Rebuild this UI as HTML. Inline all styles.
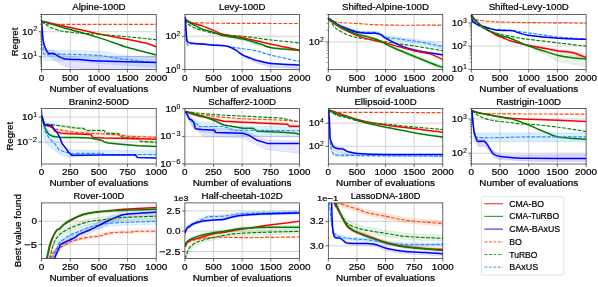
<!DOCTYPE html><html><head><meta charset="utf-8"><style>html,body{margin:0;padding:0;background:#fff;}svg{display:block;will-change:transform;}</style></head><body>
<svg width="598" height="287" viewBox="0 0 598 287" font-family='"Liberation Sans", sans-serif' fill="#000">
<style>text{stroke:#000;stroke-width:0.22px;}text.sup{stroke-width:0.08px;}</style>
<rect x="0" y="0" width="598" height="287" fill="#fff"/>
<defs><clipPath id="c0"><rect x="41.6" y="14.4" width="114.60" height="55.20"/></clipPath></defs>
<path d="M70.25 14.4V69.6M98.90 14.4V69.6M127.55 14.4V69.6M41.6 56.40H156.2M41.6 31.70H156.2" stroke="#c8c8c8" stroke-width="0.8" fill="none"/>
<g clip-path="url(#c0)">
<path d="M42.00 45.00 L44.00 50.00 L48.40 50.40 L70.00 50.40 L100.00 51.30 L114.50 53.70 L129.10 56.20 L156.60 57.10 L156.60 67.30 L129.10 65.40 L100.00 63.40 L70.00 61.00 L48.00 60.40 L44.20 60.40 L42.00 55.00Z" fill="#1e90ff" fill-opacity="0.128" stroke="#1e90ff" stroke-opacity="0.208" stroke-width="0.6"/>
<path d="M42.00 30.00 L43.00 39.00 L45.00 47.00 L48.40 50.00 L53.60 50.40 L58.80 53.60 L66.10 55.70 L80.00 57.20 L100.00 56.80 L156.60 56.60 L156.60 70.00 L100.00 69.50 L80.00 68.20 L70.30 67.70 L66.10 66.60 L60.90 64.50 L55.70 60.90 L50.40 57.20 L46.30 54.60 L43.00 45.00Z" fill="#0000ff" fill-opacity="0.104" stroke="#0000ff" stroke-opacity="0.169" stroke-width="0.6"/>
<path d="M41.60 21.10 C41.98 21.44 42.66 22.69 44.00 23.20 C45.34 23.71 44.00 24.11 50.00 24.30 C58.96 24.49 82.94 24.38 100.00 24.40 C117.06 24.42 147.54 24.40 156.60 24.40" fill="none" stroke="#ff4500" stroke-width="1.15" stroke-linejoin="round" stroke-dasharray="3.8 1.4"/>
<path d="M41.60 21.10 C46.14 22.12 60.98 25.47 70.00 27.50 C79.02 29.53 88.83 31.91 98.00 33.80 C107.17 35.69 119.54 37.78 127.30 39.30 C135.06 40.82 141.81 42.08 146.50 43.30 C151.19 44.52 154.98 46.32 156.60 46.90" fill="none" stroke="#ff0000" stroke-width="1.5" stroke-linejoin="round"/>
<path d="M41.60 21.10 C46.14 22.44 60.98 26.89 70.00 29.50 C79.02 32.11 88.83 34.55 98.00 37.40 C107.17 40.25 119.54 44.90 127.30 47.30 C135.06 49.70 141.81 51.17 146.50 52.40 C151.19 53.63 154.98 54.58 156.60 55.00" fill="none" stroke="#008000" stroke-width="1.5" stroke-linejoin="round"/>
<path d="M41.60 21.10 C42.30 21.64 44.64 23.54 46.00 24.50 C47.36 25.46 47.83 26.09 50.10 27.10 C52.37 28.11 56.97 29.98 60.20 30.80 C63.43 31.62 67.07 31.82 70.30 32.20 C73.53 32.58 75.97 32.88 80.40 33.20 C84.83 33.52 90.50 33.62 98.00 34.20 C105.50 34.78 117.92 35.92 127.30 36.80 C136.68 37.68 151.91 39.24 156.60 39.70" fill="none" stroke="#008000" stroke-width="1.15" stroke-linejoin="round" stroke-dasharray="3.8 1.4"/>
<path d="M41.60 21.10 C41.74 23.32 42.28 31.18 42.50 35.00 C42.72 38.82 42.81 41.94 43.00 45.00 C43.19 48.06 43.00 52.64 43.70 54.10 C46.42 55.56 54.19 54.02 60.00 54.10 C65.81 54.18 73.60 54.38 80.00 54.60 C86.40 54.82 95.25 55.10 100.00 55.50 C104.75 55.90 106.60 56.60 109.70 57.10 C112.80 57.60 116.30 58.22 119.40 58.60 C122.50 58.98 126.00 59.12 129.10 59.50 C132.20 59.88 134.40 60.52 138.80 61.00 C143.20 61.48 153.75 62.26 156.60 62.50" fill="none" stroke="#1e90ff" stroke-width="1.15" stroke-linejoin="round" stroke-dasharray="3.8 1.4"/>
<path d="M41.60 21.10 C41.71 22.52 42.06 26.98 42.30 30.00 C42.54 33.02 42.72 37.39 43.10 40.00 C43.48 42.61 44.19 44.64 44.70 46.30 C45.21 47.96 45.71 49.31 46.30 50.40 C46.89 51.49 47.74 52.59 48.40 53.10 C49.06 53.61 49.65 53.55 50.40 53.60 C51.15 53.65 52.25 53.24 53.10 53.40 C53.95 53.56 54.63 53.99 55.70 54.60 C56.77 55.21 58.47 56.53 59.80 57.20 C61.13 57.87 62.32 58.46 64.00 58.80 C65.68 59.14 67.74 59.17 70.30 59.30 C72.86 59.43 75.25 59.31 80.00 59.60 C84.75 59.89 87.74 60.64 100.00 61.10 C112.26 61.56 147.54 62.28 156.60 62.50" fill="none" stroke="#0000ff" stroke-width="1.5" stroke-linejoin="round"/>
</g>
<rect x="41.6" y="14.4" width="114.60" height="55.20" fill="none" stroke="#262626" stroke-width="0.7"/>
<path d="M41.60 69.6v2.9M70.25 69.6v2.9M98.90 69.6v2.9M127.55 69.6v2.9M156.20 69.6v2.9M41.6 56.40h-2.9M41.6 31.70h-2.9" stroke="#262626" stroke-width="0.7" fill="none"/>
<path d="M41.6 69.32h-1.7M41.6 66.23h-1.7M41.6 63.84h-1.7M41.6 61.88h-1.7M41.6 60.23h-1.7M41.6 58.79h-1.7M41.6 57.53h-1.7M41.6 48.96h-1.7M41.6 44.62h-1.7M41.6 41.53h-1.7M41.6 39.14h-1.7M41.6 37.18h-1.7M41.6 35.53h-1.7M41.6 34.09h-1.7M41.6 32.83h-1.7M41.6 24.26h-1.7M41.6 19.92h-1.7M41.6 16.83h-1.7M41.6 14.44h-1.7" stroke="#262626" stroke-width="0.5" fill="none"/>
<text x="41.60" y="81.00" font-size="9.2" text-anchor="middle" textLength="5.52" lengthAdjust="spacingAndGlyphs">0</text>
<text x="70.25" y="81.00" font-size="9.2" text-anchor="middle" textLength="16.55" lengthAdjust="spacingAndGlyphs">500</text>
<text x="98.90" y="81.00" font-size="9.2" text-anchor="middle" textLength="22.06" lengthAdjust="spacingAndGlyphs">1000</text>
<text x="127.55" y="81.00" font-size="9.2" text-anchor="middle" textLength="22.06" lengthAdjust="spacingAndGlyphs">1500</text>
<text x="156.20" y="81.00" font-size="9.2" text-anchor="middle" textLength="22.06" lengthAdjust="spacingAndGlyphs">2000</text>
<text x="98.90" y="91.50" font-size="9.2" text-anchor="middle" textLength="98.82" lengthAdjust="spacingAndGlyphs">Number of evaluations</text>
<text x="98.90" y="10.40" font-size="9.2" text-anchor="middle" textLength="53.43" lengthAdjust="spacingAndGlyphs">Alpine-100D</text>
<text x="33.14" y="59.30" font-size="9.2" text-anchor="end" textLength="11.03" lengthAdjust="spacingAndGlyphs">10</text>
<text class="sup" x="33.34" y="56.10" font-size="6.3" text-anchor="start" textLength="3.86" lengthAdjust="spacingAndGlyphs">1</text>
<text x="33.14" y="34.60" font-size="9.2" text-anchor="end" textLength="11.03" lengthAdjust="spacingAndGlyphs">10</text>
<text class="sup" x="33.34" y="31.40" font-size="6.3" text-anchor="start" textLength="3.86" lengthAdjust="spacingAndGlyphs">2</text>
<text x="0" y="0" font-size="9.2" text-anchor="middle" textLength="28.58" lengthAdjust="spacingAndGlyphs" transform="translate(18.3 42.00) rotate(-90)">Regret</text>
<defs><clipPath id="c1"><rect x="184.9" y="14.4" width="114.50" height="55.20"/></clipPath></defs>
<path d="M213.53 14.4V69.6M242.15 14.4V69.6M270.77 14.4V69.6M184.9 36.30H299.4" stroke="#c8c8c8" stroke-width="0.8" fill="none"/>
<g clip-path="url(#c1)">
<path d="M185.30 16.20 L186.20 31.60 L186.90 39.30 L188.20 41.60 L192.00 42.50 L202.40 43.20 L215.30 44.50 L223.40 44.90 L229.00 45.90 L235.90 49.40 L242.90 54.30 L249.90 57.10 L256.80 59.60 L270.80 62.70 L299.60 64.30 L299.60 68.60 L270.80 67.00 L256.80 62.90 L249.90 59.90 L242.90 56.60 L235.90 51.20 L229.00 47.20 L223.40 45.70 L215.30 45.30 L202.40 44.00 L192.00 43.30 L188.20 42.40 L186.90 40.10 L186.20 32.40 L185.30 17.00Z" fill="#0000ff" fill-opacity="0.120" stroke="#0000ff" stroke-opacity="0.195" stroke-width="0.6"/>
<path d="M185.30 19.00 L190.70 22.80 L195.90 25.40 L202.40 28.60 L208.80 30.60 L215.30 32.50 L223.00 35.10 L243.00 38.60 L261.20 43.80 L271.30 47.20 L299.60 49.90 L261.20 46.30 L243.00 40.60 L223.00 36.60 L215.30 33.50 L208.80 31.10 L202.40 29.10 L195.90 25.90 L190.70 23.30 L185.30 19.50Z" fill="#008000" fill-opacity="0.120" stroke="#008000" stroke-opacity="0.195" stroke-width="0.6"/>
<path d="M185.30 19.50 C186.16 19.90 189.00 21.49 190.70 22.00 C192.40 22.51 190.73 22.49 195.90 22.70 C201.07 22.91 215.46 23.19 223.00 23.30 C230.54 23.41 230.74 23.37 243.00 23.40 C255.26 23.43 290.54 23.48 299.60 23.50" fill="none" stroke="#ff4500" stroke-width="1.15" stroke-linejoin="round" stroke-dasharray="3.8 1.4"/>
<path d="M185.30 19.50 C186.16 20.01 189.00 21.98 190.70 22.70 C192.40 23.42 194.03 23.49 195.90 24.00 C197.77 24.51 200.34 25.18 202.40 25.90 C204.46 26.62 206.74 27.67 208.80 28.50 C210.86 29.33 213.03 30.17 215.30 31.10 C217.57 32.03 218.57 33.24 223.00 34.30 C227.43 35.36 235.27 36.10 243.00 37.70 C250.73 39.30 262.24 42.33 271.30 44.30 C280.36 46.27 295.07 49.09 299.60 50.00" fill="none" stroke="#ff0000" stroke-width="1.5" stroke-linejoin="round"/>
<path d="M185.30 19.50 C185.76 20.22 187.13 22.88 188.20 24.00 C189.27 25.12 190.77 25.78 192.00 26.50 C193.23 27.22 194.24 27.88 195.90 28.50 C197.56 29.12 200.34 29.82 202.40 30.40 C204.46 30.98 206.74 31.59 208.80 32.10 C210.86 32.61 213.03 33.14 215.30 33.60 C217.57 34.06 218.57 34.57 223.00 35.00 C227.43 35.43 235.27 35.50 243.00 36.30 C250.73 37.10 262.24 38.94 271.30 40.00 C280.36 41.06 295.07 42.44 299.60 42.90" fill="none" stroke="#008000" stroke-width="1.15" stroke-linejoin="round" stroke-dasharray="3.8 1.4"/>
<path d="M185.30 19.50 C186.16 20.11 189.00 22.28 190.70 23.30 C192.40 24.32 194.03 24.97 195.90 25.90 C197.77 26.83 200.34 28.27 202.40 29.10 C204.46 29.93 206.74 30.48 208.80 31.10 C210.86 31.72 213.03 32.28 215.30 33.00 C217.57 33.72 218.57 34.62 223.00 35.60 C227.43 36.58 236.89 37.71 243.00 39.10 C249.11 40.49 256.67 42.92 261.20 44.30 C265.73 45.68 265.16 46.72 271.30 47.70 C277.44 48.68 295.07 49.97 299.60 50.40" fill="none" stroke="#008000" stroke-width="1.5" stroke-linejoin="round"/>
<path d="M185.30 17.00 C185.56 21.21 185.65 39.04 186.90 43.30 C188.15 47.56 188.88 43.33 193.10 43.60 C197.32 43.87 208.45 44.70 213.30 45.00 C218.15 45.30 220.89 45.26 223.40 45.50 C225.91 45.74 225.88 45.97 229.00 46.50 C232.12 47.03 238.45 48.10 242.90 48.80 C247.35 49.50 252.34 49.89 256.80 50.90 C261.26 51.91 263.95 53.40 270.80 55.10 C277.65 56.80 294.99 60.48 299.60 61.50" fill="none" stroke="#1e90ff" stroke-width="1.15" stroke-linejoin="round" stroke-dasharray="3.8 1.4"/>
<path d="M185.30 17.00 C185.44 19.46 185.94 28.70 186.20 32.40 C186.46 36.10 186.58 38.50 186.90 40.10 C187.22 41.70 187.38 41.89 188.20 42.40 C189.02 42.91 189.73 43.04 192.00 43.30 C194.27 43.56 198.67 43.68 202.40 44.00 C206.13 44.32 211.94 45.03 215.30 45.30 C218.66 45.57 221.21 45.48 223.40 45.70 C225.59 45.92 227.00 45.98 229.00 46.70 C231.00 47.42 233.68 48.86 235.90 50.20 C238.12 51.54 240.66 53.87 242.90 55.10 C245.14 56.33 247.68 57.05 249.90 57.90 C252.12 58.75 253.46 59.50 256.80 60.40 C260.14 61.30 263.95 62.75 270.80 63.50 C277.65 64.25 294.99 64.84 299.60 65.10" fill="none" stroke="#0000ff" stroke-width="1.5" stroke-linejoin="round"/>
</g>
<rect x="184.9" y="14.4" width="114.50" height="55.20" fill="none" stroke="#262626" stroke-width="0.7"/>
<path d="M184.90 69.6v2.9M213.53 69.6v2.9M242.15 69.6v2.9M270.77 69.6v2.9M299.40 69.6v2.9M184.9 69.60h-2.9M184.9 36.30h-2.9" stroke="#262626" stroke-width="0.7" fill="none"/>
<text x="184.90" y="81.00" font-size="9.2" text-anchor="middle" textLength="5.52" lengthAdjust="spacingAndGlyphs">0</text>
<text x="213.53" y="81.00" font-size="9.2" text-anchor="middle" textLength="16.55" lengthAdjust="spacingAndGlyphs">500</text>
<text x="242.15" y="81.00" font-size="9.2" text-anchor="middle" textLength="22.06" lengthAdjust="spacingAndGlyphs">1000</text>
<text x="270.77" y="81.00" font-size="9.2" text-anchor="middle" textLength="22.06" lengthAdjust="spacingAndGlyphs">1500</text>
<text x="299.40" y="81.00" font-size="9.2" text-anchor="middle" textLength="22.06" lengthAdjust="spacingAndGlyphs">2000</text>
<text x="242.15" y="91.50" font-size="9.2" text-anchor="middle" textLength="98.82" lengthAdjust="spacingAndGlyphs">Number of evaluations</text>
<text x="242.15" y="10.40" font-size="9.2" text-anchor="middle" textLength="46.47" lengthAdjust="spacingAndGlyphs">Levy-100D</text>
<text x="176.44" y="72.50" font-size="9.2" text-anchor="end" textLength="11.03" lengthAdjust="spacingAndGlyphs">10</text>
<text class="sup" x="176.64" y="69.30" font-size="6.3" text-anchor="start" textLength="3.86" lengthAdjust="spacingAndGlyphs">0</text>
<text x="176.44" y="39.20" font-size="9.2" text-anchor="end" textLength="11.03" lengthAdjust="spacingAndGlyphs">10</text>
<text class="sup" x="176.64" y="36.00" font-size="6.3" text-anchor="start" textLength="3.86" lengthAdjust="spacingAndGlyphs">2</text>
<defs><clipPath id="c2"><rect x="328.3" y="14.4" width="114.50" height="55.20"/></clipPath></defs>
<path d="M356.93 14.4V69.6M385.55 14.4V69.6M414.18 14.4V69.6M328.3 41.90H442.8" stroke="#c8c8c8" stroke-width="0.8" fill="none"/>
<g clip-path="url(#c2)">
<path d="M328.60 19.10 L337.10 24.40 L347.20 29.70 L357.30 33.70 L367.40 36.00 L377.50 38.90 L385.00 42.50 L393.00 46.30 L413.90 54.80 L430.00 60.90 L442.80 65.50 L442.80 69.50 L430.00 64.50 L413.90 57.80 L393.00 48.70 L385.00 44.50 L377.50 40.50 L367.40 37.60 L357.30 34.70 L347.20 30.70 L337.10 25.40 L328.60 19.10Z" fill="#008000" fill-opacity="0.120" stroke="#008000" stroke-opacity="0.195" stroke-width="0.6"/>
<path d="M328.60 17.80 L337.10 23.30 L347.20 27.70 L357.30 30.80 L367.40 31.40 L377.00 31.60 L385.00 35.80 L413.90 39.00 L442.80 44.20 L442.80 49.20 L413.90 43.00 L385.00 38.50 L377.00 33.60 L367.40 33.40 L357.30 32.40 L347.20 28.70 L337.10 24.30 L328.60 17.80Z" fill="#1e90ff" fill-opacity="0.160" stroke="#1e90ff" stroke-opacity="0.260" stroke-width="0.6"/>
<path d="M328.60 17.50 L337.10 23.50 L347.20 28.00 L357.30 31.40 L367.40 32.40 L375.50 32.40 L381.50 34.00 L385.00 37.00 L401.00 45.10 L413.90 49.10 L430.00 52.30 L442.80 53.90 L442.80 55.50 L430.00 53.90 L413.90 50.70 L401.00 46.70 L385.00 38.60 L381.50 35.60 L375.50 34.00 L367.40 34.00 L357.30 33.00 L347.20 29.60 L337.10 25.10 L328.60 19.10Z" fill="#0000ff" fill-opacity="0.120" stroke="#0000ff" stroke-opacity="0.195" stroke-width="0.6"/>
<path d="M328.60 19.10 C329.96 19.58 332.51 21.40 337.10 22.10 C341.69 22.80 349.32 23.02 357.30 23.50 C365.28 23.98 373.19 24.84 387.00 25.10 C400.81 25.36 434.54 25.10 443.60 25.10" fill="none" stroke="#ff4500" stroke-width="1.15" stroke-linejoin="round" stroke-dasharray="3.8 1.4"/>
<path d="M328.60 19.10 C329.32 20.06 331.74 23.48 333.10 25.10 C334.46 26.72 334.84 27.65 337.10 29.20 C339.36 30.75 343.97 33.46 347.20 34.80 C350.43 36.14 354.07 36.88 357.30 37.60 C360.53 38.32 364.17 38.87 367.40 39.30 C370.63 39.73 374.68 39.88 377.50 40.30 C380.32 40.72 379.18 41.00 385.00 41.90 C390.82 42.80 404.65 44.49 413.90 45.90 C423.15 47.31 438.18 49.93 442.80 50.70" fill="none" stroke="#008000" stroke-width="1.15" stroke-linejoin="round" stroke-dasharray="3.8 1.4"/>
<path d="M328.60 17.80 C329.96 18.76 334.12 22.14 337.10 23.80 C340.08 25.46 343.97 26.95 347.20 28.20 C350.43 29.45 354.07 30.93 357.30 31.60 C360.53 32.27 364.25 32.24 367.40 32.40 C370.55 32.56 374.18 31.86 377.00 32.60 C379.82 33.34 379.10 35.66 385.00 37.00 C390.90 38.34 404.65 39.45 413.90 41.00 C423.15 42.55 438.18 45.79 442.80 46.70" fill="none" stroke="#1e90ff" stroke-width="1.15" stroke-linejoin="round" stroke-dasharray="3.8 1.4"/>
<path d="M328.60 18.30 C329.96 19.26 334.12 22.62 337.10 24.30 C340.08 25.98 343.97 27.54 347.20 28.80 C350.43 30.06 354.07 31.50 357.30 32.20 C360.53 32.90 364.49 33.04 367.40 33.20 C370.31 33.36 373.24 32.94 375.50 33.20 C377.76 33.46 379.98 34.06 381.50 34.80 C383.02 35.54 381.88 36.02 385.00 37.80 C388.12 39.58 396.38 43.96 401.00 45.90 C405.62 47.84 409.26 48.75 413.90 49.90 C418.54 51.05 425.38 52.33 430.00 53.10 C434.62 53.87 440.75 54.44 442.80 54.70" fill="none" stroke="#0000ff" stroke-width="1.5" stroke-linejoin="round"/>
<path d="M328.60 19.10 C329.96 20.12 334.12 23.56 337.10 25.50 C340.08 27.44 343.97 29.58 347.20 31.20 C350.43 32.82 354.07 34.37 357.30 35.60 C360.53 36.83 364.17 37.99 367.40 38.90 C370.63 39.81 374.68 40.69 377.50 41.30 C380.32 41.91 382.52 42.09 385.00 42.70 C387.48 43.31 388.38 43.82 393.00 45.10 C397.62 46.38 407.98 49.29 413.90 50.70 C419.82 52.11 425.38 52.49 430.00 53.90 C434.62 55.31 440.75 58.60 442.80 59.50" fill="none" stroke="#ff0000" stroke-width="1.5" stroke-linejoin="round"/>
<path d="M328.60 19.10 C329.96 20.03 334.12 23.12 337.10 24.90 C340.08 26.68 343.97 28.71 347.20 30.20 C350.43 31.69 354.07 33.14 357.30 34.20 C360.53 35.26 364.17 35.92 367.40 36.80 C370.63 37.68 374.68 38.63 377.50 39.70 C380.32 40.77 382.52 42.25 385.00 43.50 C387.48 44.75 388.38 45.45 393.00 47.50 C397.62 49.55 407.98 53.87 413.90 56.30 C419.82 58.73 425.38 60.91 430.00 62.70 C434.62 64.49 440.75 66.73 442.80 67.50" fill="none" stroke="#008000" stroke-width="1.5" stroke-linejoin="round"/>
</g>
<rect x="328.3" y="14.4" width="114.50" height="55.20" fill="none" stroke="#262626" stroke-width="0.7"/>
<path d="M328.30 69.6v2.9M356.93 69.6v2.9M385.55 69.6v2.9M414.18 69.6v2.9M442.80 69.6v2.9M328.3 41.90h-2.9" stroke="#262626" stroke-width="0.7" fill="none"/>
<path d="M328.3 69.16h-1.7M328.3 62.29h-1.7M328.3 57.42h-1.7M328.3 53.64h-1.7M328.3 50.55h-1.7M328.3 47.94h-1.7M328.3 45.68h-1.7M328.3 43.68h-1.7M328.3 30.16h-1.7M328.3 23.29h-1.7M328.3 18.42h-1.7M328.3 14.64h-1.7" stroke="#262626" stroke-width="0.5" fill="none"/>
<text x="328.30" y="81.00" font-size="9.2" text-anchor="middle" textLength="5.52" lengthAdjust="spacingAndGlyphs">0</text>
<text x="356.93" y="81.00" font-size="9.2" text-anchor="middle" textLength="16.55" lengthAdjust="spacingAndGlyphs">500</text>
<text x="385.55" y="81.00" font-size="9.2" text-anchor="middle" textLength="22.06" lengthAdjust="spacingAndGlyphs">1000</text>
<text x="414.18" y="81.00" font-size="9.2" text-anchor="middle" textLength="22.06" lengthAdjust="spacingAndGlyphs">1500</text>
<text x="442.80" y="81.00" font-size="9.2" text-anchor="middle" textLength="22.06" lengthAdjust="spacingAndGlyphs">2000</text>
<text x="385.55" y="91.50" font-size="9.2" text-anchor="middle" textLength="98.82" lengthAdjust="spacingAndGlyphs">Number of evaluations</text>
<text x="385.55" y="10.40" font-size="9.2" text-anchor="middle" textLength="86.92" lengthAdjust="spacingAndGlyphs">Shifted-Alpine-100D</text>
<text x="319.84" y="44.80" font-size="9.2" text-anchor="end" textLength="11.03" lengthAdjust="spacingAndGlyphs">10</text>
<text class="sup" x="320.04" y="41.60" font-size="6.3" text-anchor="start" textLength="3.86" lengthAdjust="spacingAndGlyphs">2</text>
<defs><clipPath id="c3"><rect x="471.3" y="14.4" width="114.80" height="55.20"/></clipPath></defs>
<path d="M500.00 14.4V69.6M528.70 14.4V69.6M557.40 14.4V69.6M471.3 46.12H586.1M471.3 22.90H586.1" stroke="#c8c8c8" stroke-width="0.8" fill="none"/>
<g clip-path="url(#c3)">
<path d="M520.00 42.00 L528.00 45.00 L548.20 52.00 L558.30 53.50 L572.40 55.50 L586.60 57.00 L586.60 66.50 L572.40 64.00 L558.30 61.50 L548.20 56.00 L528.00 47.00 L520.00 44.00Z" fill="#008000" fill-opacity="0.096" stroke="#008000" stroke-opacity="0.156" stroke-width="0.6"/>
<path d="M471.60 15.00 L473.90 18.80 L482.90 27.20 L489.40 31.10 L495.80 35.00 L502.30 37.50 L510.00 40.70 L520.50 43.60 L528.00 44.80 L548.20 48.00 L558.30 50.00 L572.40 50.90 L586.60 56.30 L586.60 59.30 L572.40 53.90 L558.30 52.00 L548.20 50.00 L528.00 45.80 L520.50 43.60 L510.00 40.70 L502.30 37.50 L495.80 35.00 L489.40 31.10 L482.90 27.20 L473.90 18.80 L471.60 15.00Z" fill="#ff0000" fill-opacity="0.120" stroke="#ff0000" stroke-opacity="0.195" stroke-width="0.6"/>
<path d="M471.60 15.50 C472.38 16.14 474.69 18.67 476.50 19.50 C478.31 20.33 479.81 20.33 482.90 20.70 C485.99 21.07 491.46 21.54 495.80 21.80 C500.14 22.06 504.53 22.17 510.00 22.30 C515.47 22.43 517.74 22.47 530.00 22.60 C542.26 22.73 577.54 23.02 586.60 23.10" fill="none" stroke="#ff4500" stroke-width="1.15" stroke-linejoin="round" stroke-dasharray="3.8 1.4"/>
<path d="M471.60 15.50 C472.38 16.86 474.69 22.03 476.50 24.00 C478.31 25.97 480.84 26.66 482.90 27.80 C484.96 28.94 487.34 30.27 489.40 31.10 C491.46 31.93 493.74 32.42 495.80 33.00 C497.86 33.58 500.03 34.19 502.30 34.70 C504.57 35.21 507.09 35.62 510.00 36.20 C512.91 36.78 517.62 37.80 520.50 38.30 C523.38 38.80 521.95 38.56 528.00 39.30 C534.05 40.04 548.92 41.78 558.30 42.90 C567.68 44.02 582.07 45.76 586.60 46.30" fill="none" stroke="#008000" stroke-width="1.15" stroke-linejoin="round" stroke-dasharray="3.8 1.4"/>
<path d="M471.60 15.50 C471.82 16.14 472.42 18.49 473.00 19.50 C473.58 20.51 473.62 20.78 475.20 21.80 C476.78 22.82 480.63 24.91 482.90 25.90 C485.17 26.89 487.34 27.42 489.40 28.00 C491.46 28.58 492.12 29.13 495.80 29.50 C499.48 29.87 508.77 29.96 512.40 30.30 C516.03 30.64 516.00 31.20 518.50 31.60 C521.00 32.00 521.63 31.94 528.00 32.80 C534.37 33.66 548.92 36.01 558.30 37.00 C567.68 37.99 582.07 38.68 586.60 39.00" fill="none" stroke="#1e90ff" stroke-width="1.15" stroke-linejoin="round" stroke-dasharray="3.8 1.4"/>
<path d="M471.60 15.60 C471.76 16.53 472.02 20.17 472.60 21.40 C473.18 22.63 474.18 22.68 475.20 23.30 C476.22 23.92 477.77 24.79 479.00 25.30 C480.23 25.81 481.24 25.99 482.90 26.50 C484.56 27.01 487.34 27.94 489.40 28.50 C491.46 29.06 493.74 29.70 495.80 30.00 C497.86 30.30 499.64 30.27 502.30 30.40 C504.96 30.53 509.81 30.42 512.40 30.80 C514.99 31.18 516.00 32.10 518.50 32.80 C521.00 33.50 521.63 34.32 528.00 35.20 C534.37 36.08 548.92 37.64 558.30 38.30 C567.68 38.96 582.07 39.14 586.60 39.30" fill="none" stroke="#0000ff" stroke-width="1.5" stroke-linejoin="round"/>
<path d="M471.60 15.00 C471.97 15.61 472.09 16.85 473.90 18.80 C475.71 20.75 480.42 25.23 482.90 27.20 C485.38 29.17 487.34 29.85 489.40 31.10 C491.46 32.35 493.74 33.98 495.80 35.00 C497.86 36.02 500.03 36.59 502.30 37.50 C504.57 38.41 507.09 39.72 510.00 40.70 C512.91 41.68 517.62 42.86 520.50 43.60 C523.38 44.34 523.57 44.44 528.00 45.30 C532.43 46.16 543.35 48.09 548.20 49.00 C553.05 49.91 554.43 50.46 558.30 51.00 C562.17 51.54 567.87 51.31 572.40 52.40 C576.93 53.49 584.33 56.94 586.60 57.80" fill="none" stroke="#ff0000" stroke-width="1.5" stroke-linejoin="round"/>
<path d="M471.60 15.00 C471.97 15.61 472.09 16.88 473.90 18.80 C475.71 20.72 480.42 25.08 482.90 27.00 C485.38 28.92 487.34 29.74 489.40 30.80 C491.46 31.86 493.74 32.74 495.80 33.60 C497.86 34.46 500.03 35.46 502.30 36.20 C504.57 36.94 507.09 37.18 510.00 38.20 C512.91 39.22 517.62 41.40 520.50 42.60 C523.38 43.80 523.57 44.13 528.00 45.70 C532.43 47.27 543.35 50.85 548.20 52.40 C553.05 53.95 554.43 54.54 558.30 55.40 C562.17 56.26 567.87 57.21 572.40 57.80 C576.93 58.39 584.33 58.89 586.60 59.10" fill="none" stroke="#008000" stroke-width="1.5" stroke-linejoin="round"/>
</g>
<rect x="471.3" y="14.4" width="114.80" height="55.20" fill="none" stroke="#262626" stroke-width="0.7"/>
<path d="M471.30 69.6v2.9M500.00 69.6v2.9M528.70 69.6v2.9M557.40 69.6v2.9M586.10 69.6v2.9M471.3 69.35h-2.9M471.3 46.12h-2.9M471.3 22.90h-2.9" stroke="#262626" stroke-width="0.7" fill="none"/>
<path d="M471.3 62.36h-1.7M471.3 58.27h-1.7M471.3 55.37h-1.7M471.3 53.12h-1.7M471.3 51.28h-1.7M471.3 49.72h-1.7M471.3 48.38h-1.7M471.3 47.19h-1.7M471.3 39.13h-1.7M471.3 35.04h-1.7M471.3 32.14h-1.7M471.3 29.89h-1.7M471.3 28.05h-1.7M471.3 26.50h-1.7M471.3 25.15h-1.7M471.3 23.96h-1.7M471.3 15.91h-1.7" stroke="#262626" stroke-width="0.5" fill="none"/>
<text x="471.30" y="81.00" font-size="9.2" text-anchor="middle" textLength="5.52" lengthAdjust="spacingAndGlyphs">0</text>
<text x="500.00" y="81.00" font-size="9.2" text-anchor="middle" textLength="16.55" lengthAdjust="spacingAndGlyphs">500</text>
<text x="528.70" y="81.00" font-size="9.2" text-anchor="middle" textLength="22.06" lengthAdjust="spacingAndGlyphs">1000</text>
<text x="557.40" y="81.00" font-size="9.2" text-anchor="middle" textLength="22.06" lengthAdjust="spacingAndGlyphs">1500</text>
<text x="586.10" y="81.00" font-size="9.2" text-anchor="middle" textLength="22.06" lengthAdjust="spacingAndGlyphs">2000</text>
<text x="528.70" y="91.50" font-size="9.2" text-anchor="middle" textLength="98.82" lengthAdjust="spacingAndGlyphs">Number of evaluations</text>
<text x="528.70" y="10.40" font-size="9.2" text-anchor="middle" textLength="80.15" lengthAdjust="spacingAndGlyphs">Shifted-Levy-100D</text>
<text x="462.84" y="72.25" font-size="9.2" text-anchor="end" textLength="11.03" lengthAdjust="spacingAndGlyphs">10</text>
<text class="sup" x="463.04" y="69.05" font-size="6.3" text-anchor="start" textLength="3.86" lengthAdjust="spacingAndGlyphs">1</text>
<text x="462.84" y="49.02" font-size="9.2" text-anchor="end" textLength="11.03" lengthAdjust="spacingAndGlyphs">10</text>
<text class="sup" x="463.04" y="45.83" font-size="6.3" text-anchor="start" textLength="3.86" lengthAdjust="spacingAndGlyphs">2</text>
<text x="462.84" y="25.80" font-size="9.2" text-anchor="end" textLength="11.03" lengthAdjust="spacingAndGlyphs">10</text>
<text class="sup" x="463.04" y="22.60" font-size="6.3" text-anchor="start" textLength="3.86" lengthAdjust="spacingAndGlyphs">3</text>
<defs><clipPath id="c4"><rect x="41.6" y="108.5" width="114.60" height="55.50"/></clipPath></defs>
<path d="M70.25 108.5V164.0M98.90 108.5V164.0M127.55 108.5V164.0M41.6 142.10H156.2M41.6 117.10H156.2" stroke="#c8c8c8" stroke-width="0.8" fill="none"/>
<g clip-path="url(#c4)">
<path d="M42.00 112.00 L44.40 127.00 L48.60 130.00 L54.80 137.00 L59.00 142.00 L65.30 147.00 L70.50 150.00 L100.00 150.50 L156.60 150.50 L156.60 155.50 L100.00 155.50 L70.50 157.00 L65.30 156.00 L59.00 154.00 L54.80 150.00 L48.60 146.00 L44.40 140.00 L42.00 125.00Z" fill="#1e90ff" fill-opacity="0.160" stroke="#1e90ff" stroke-opacity="0.260" stroke-width="0.6"/>
<path d="M41.60 114.20 L44.40 122.60 L48.60 123.00 L52.70 123.60 L61.10 124.70 L76.00 126.90 L83.00 127.10 L86.50 129.30 L103.90 129.30 L106.00 132.00 L118.20 132.40 L122.20 136.10 L138.40 137.10 L140.40 140.10 L156.60 141.20 L156.60 143.60 L140.40 142.50 L138.40 139.50 L122.20 138.50 L118.20 134.80 L106.00 134.40 L103.90 131.70 L86.50 131.70 L83.00 129.50 L76.00 129.30 L61.10 127.10 L52.70 126.00 L48.60 125.40 L44.40 125.00 L41.60 116.60Z" fill="#008000" fill-opacity="0.096" stroke="#008000" stroke-opacity="0.156" stroke-width="0.6"/>
<path d="M41.60 114.40 L44.40 123.80 L48.60 124.90 L54.80 128.00 L76.00 131.50 L116.00 133.60 L128.30 135.30 L156.60 136.30 L156.60 138.30 L128.30 137.30 L116.00 135.60 L76.00 133.50 L54.80 130.00 L48.60 126.90 L44.40 125.80 L41.60 116.40Z" fill="#ff4500" fill-opacity="0.096" stroke="#ff4500" stroke-opacity="0.156" stroke-width="0.6"/>
<path d="M41.60 114.80 L43.30 121.10 L45.40 128.40 L48.60 133.60 L52.70 135.70 L61.10 136.80 L76.00 137.00 L90.00 137.50 L101.10 139.60 L103.90 141.00 L108.00 142.40 L118.20 143.40 L138.40 145.20 L156.60 145.80 L156.60 147.00 L138.40 146.40 L118.20 144.60 L108.00 143.60 L103.90 142.20 L101.10 140.80 L90.00 138.70 L76.00 138.20 L61.10 138.00 L52.70 136.90 L48.60 134.80 L45.40 129.60 L43.30 122.30 L41.60 116.00Z" fill="#008000" fill-opacity="0.096" stroke="#008000" stroke-opacity="0.156" stroke-width="0.6"/>
<path d="M41.60 114.60 L44.40 124.00 L48.60 125.10 L52.70 126.70 L54.80 130.30 L61.10 132.40 L76.00 133.10 L91.30 133.80 L92.70 136.60 L103.90 137.30 L128.30 137.70 L156.60 138.50 L156.60 140.10 L128.30 139.30 L103.90 138.90 L92.70 138.20 L91.30 135.40 L76.00 134.70 L61.10 134.00 L54.80 131.90 L52.70 128.30 L48.60 126.70 L44.40 125.60 L41.60 116.20Z" fill="#ff0000" fill-opacity="0.096" stroke="#ff0000" stroke-opacity="0.156" stroke-width="0.6"/>
<path d="M41.60 115.40 L44.40 124.80 L48.60 125.90 L54.80 129.00 L76.00 132.50 L116.00 134.60 L128.30 136.30 L156.60 137.30" fill="none" stroke="#ff4500" stroke-width="1.15" stroke-linejoin="round" stroke-dasharray="3.8 1.4"/>
<path d="M41.60 115.40 L44.40 123.80 L48.60 124.20 L52.70 124.80 L61.10 125.90 L76.00 128.10 L83.00 128.30 L86.50 130.50 L103.90 130.50 L106.00 133.20 L118.20 133.60 L122.20 137.30 L138.40 138.30 L140.40 141.30 L156.60 142.40" fill="none" stroke="#008000" stroke-width="1.15" stroke-linejoin="round" stroke-dasharray="3.8 1.4"/>
<path d="M41.60 115.40 L44.40 124.80 L48.60 125.90 L52.70 127.50 L54.80 131.10 L61.10 133.20 L76.00 133.90 L91.30 134.60 L92.70 137.40 L103.90 138.10 L128.30 138.50 L156.60 139.30" fill="none" stroke="#ff0000" stroke-width="1.5" stroke-linejoin="round"/>
<path d="M41.60 115.40 L43.30 121.70 L45.40 129.00 L48.60 134.20 L52.70 136.30 L61.10 137.40 L76.00 137.60 L90.00 138.10 L101.10 140.20 L103.90 141.60 L108.00 143.00 L118.20 144.00 L138.40 145.80 L156.60 146.40" fill="none" stroke="#008000" stroke-width="1.5" stroke-linejoin="round"/>
<path d="M41.60 110.00 L43.00 122.00 L45.00 131.00 L48.60 137.40 L54.80 143.70 L59.00 149.90 L65.30 152.00 L70.50 153.50 L102.50 153.20 L103.90 154.50 L156.60 154.50" fill="none" stroke="#1e90ff" stroke-width="1.15" stroke-linejoin="round" stroke-dasharray="3.8 1.4"/>
<path d="M41.60 115.40 L44.40 124.80 L46.50 125.20 L51.70 125.20 L53.80 129.00 L56.90 132.20 L60.10 138.40 L62.20 143.70 L66.30 148.90 L68.40 152.00 L71.60 155.20 L100.00 155.10 L135.40 155.10 L137.40 157.50 L156.60 157.90" fill="none" stroke="#0000ff" stroke-width="1.5" stroke-linejoin="round"/>
</g>
<rect x="41.6" y="108.5" width="114.60" height="55.50" fill="none" stroke="#262626" stroke-width="0.7"/>
<path d="M41.60 164.0v2.9M70.25 164.0v2.9M98.90 164.0v2.9M127.55 164.0v2.9M156.20 164.0v2.9M41.6 142.10h-2.9M41.6 117.10h-2.9" stroke="#262626" stroke-width="0.7" fill="none"/>
<text x="41.60" y="175.40" font-size="9.2" text-anchor="middle" textLength="5.52" lengthAdjust="spacingAndGlyphs">0</text>
<text x="70.25" y="175.40" font-size="9.2" text-anchor="middle" textLength="16.55" lengthAdjust="spacingAndGlyphs">250</text>
<text x="98.90" y="175.40" font-size="9.2" text-anchor="middle" textLength="16.55" lengthAdjust="spacingAndGlyphs">500</text>
<text x="127.55" y="175.40" font-size="9.2" text-anchor="middle" textLength="16.55" lengthAdjust="spacingAndGlyphs">750</text>
<text x="156.20" y="175.40" font-size="9.2" text-anchor="middle" textLength="22.06" lengthAdjust="spacingAndGlyphs">1000</text>
<text x="98.90" y="185.90" font-size="9.2" text-anchor="middle" textLength="98.82" lengthAdjust="spacingAndGlyphs">Number of evaluations</text>
<text x="98.90" y="104.50" font-size="9.2" text-anchor="middle" textLength="60.09" lengthAdjust="spacingAndGlyphs">Branin2-500D</text>
<text x="28.05" y="145.00" font-size="9.2" text-anchor="end" textLength="11.03" lengthAdjust="spacingAndGlyphs">10</text>
<text class="sup" x="28.25" y="141.80" font-size="6.3" text-anchor="start" textLength="8.95" lengthAdjust="spacingAndGlyphs">−2</text>
<text x="33.14" y="120.00" font-size="9.2" text-anchor="end" textLength="11.03" lengthAdjust="spacingAndGlyphs">10</text>
<text class="sup" x="33.34" y="116.80" font-size="6.3" text-anchor="start" textLength="3.86" lengthAdjust="spacingAndGlyphs">1</text>
<text x="0" y="0" font-size="9.2" text-anchor="middle" textLength="28.58" lengthAdjust="spacingAndGlyphs" transform="translate(13.1 136.25) rotate(-90)">Regret</text>
<defs><clipPath id="c5"><rect x="184.9" y="108.5" width="114.50" height="55.50"/></clipPath></defs>
<path d="M213.53 108.5V164.0M242.15 108.5V164.0M270.77 108.5V164.0M184.9 136.40H299.4" stroke="#c8c8c8" stroke-width="0.8" fill="none"/>
<g clip-path="url(#c5)">
<path d="M185.50 111.50 L193.00 119.00 L199.00 122.00 L213.00 123.00 L233.00 126.00 L243.00 126.00 L299.60 127.00 L299.60 137.00 L243.00 136.00 L213.00 133.00 L201.00 132.00 L193.00 127.00 L186.00 115.00Z" fill="#1e90ff" fill-opacity="0.144" stroke="#1e90ff" stroke-opacity="0.234" stroke-width="0.6"/>
<path d="M185.50 111.50 L189.20 117.50 L194.50 123.50 L202.00 127.00 L215.00 128.00 L243.00 130.00 L257.00 136.00 L267.00 140.00 L299.60 141.00 L299.60 153.50 L267.00 149.40 L257.00 145.00 L243.00 138.00 L224.00 137.00 L206.50 137.00 L202.00 135.50 L193.00 127.00 L189.00 121.00Z" fill="#0000ff" fill-opacity="0.096" stroke="#0000ff" stroke-opacity="0.156" stroke-width="0.6"/>
<path d="M185.50 110.30 L191.50 112.50 L199.00 114.80 L206.50 116.30 L214.00 117.80 L224.00 120.00 L243.00 121.00 L287.50 123.00 L289.50 125.00 L299.60 125.00 L299.60 127.40 L289.50 127.40 L287.50 125.40 L243.00 123.40 L224.00 122.40 L214.00 120.20 L206.50 118.70 L199.00 117.20 L191.50 114.90 L185.50 112.70Z" fill="#ff0000" fill-opacity="0.096" stroke="#ff0000" stroke-opacity="0.156" stroke-width="0.6"/>
<path d="M185.50 111.50 L199.00 113.30 L224.00 115.20 L243.00 116.10 L281.40 118.10 L299.60 122.20" fill="none" stroke="#008000" stroke-width="1.15" stroke-linejoin="round" stroke-dasharray="3.8 1.4"/>
<path d="M185.50 111.50 L199.00 114.50 L224.00 117.50 L243.00 118.80 L281.40 120.10 L299.60 121.50" fill="none" stroke="#ff4500" stroke-width="1.15" stroke-linejoin="round" stroke-dasharray="3.8 1.4"/>
<path d="M185.50 111.50 L191.50 113.70 L199.00 116.00 L206.50 117.50 L214.00 119.00 L224.00 121.20 L243.00 122.20 L287.50 124.20 L289.50 126.20 L299.60 126.20" fill="none" stroke="#ff0000" stroke-width="1.5" stroke-linejoin="round"/>
<path d="M185.50 111.50 L199.00 115.20 L206.50 117.50 L214.00 120.50 L224.00 125.00 L243.00 128.20 L253.00 128.20 L257.20 131.20 L281.40 132.30 L295.50 133.30 L299.60 134.30" fill="none" stroke="#008000" stroke-width="1.5" stroke-linejoin="round"/>
<path d="M185.50 111.50 L190.00 120.50 L194.50 122.70 L197.50 124.20 L199.00 126.50 L224.00 126.50 L233.50 130.20 L243.00 130.20 L299.60 130.80" fill="none" stroke="#1e90ff" stroke-width="1.15" stroke-linejoin="round" stroke-dasharray="3.8 1.4"/>
<path d="M185.50 111.50 L187.70 115.20 L189.20 119.00 L191.50 119.70 L193.70 122.00 L194.50 125.00 L195.20 128.70 L202.00 129.50 L214.70 130.20 L215.50 132.50 L224.00 132.80 L243.00 133.30 L249.10 135.30 L257.20 140.30 L267.30 143.40 L299.60 143.40" fill="none" stroke="#0000ff" stroke-width="1.5" stroke-linejoin="round"/>
</g>
<rect x="184.9" y="108.5" width="114.50" height="55.50" fill="none" stroke="#262626" stroke-width="0.7"/>
<path d="M184.90 164.0v2.9M213.53 164.0v2.9M242.15 164.0v2.9M270.77 164.0v2.9M299.40 164.0v2.9M184.9 164.00h-2.9M184.9 136.40h-2.9M184.9 108.80h-2.9" stroke="#262626" stroke-width="0.7" fill="none"/>
<text x="184.90" y="175.40" font-size="9.2" text-anchor="middle" textLength="5.52" lengthAdjust="spacingAndGlyphs">0</text>
<text x="213.53" y="175.40" font-size="9.2" text-anchor="middle" textLength="16.55" lengthAdjust="spacingAndGlyphs">250</text>
<text x="242.15" y="175.40" font-size="9.2" text-anchor="middle" textLength="16.55" lengthAdjust="spacingAndGlyphs">500</text>
<text x="270.77" y="175.40" font-size="9.2" text-anchor="middle" textLength="16.55" lengthAdjust="spacingAndGlyphs">750</text>
<text x="299.40" y="175.40" font-size="9.2" text-anchor="middle" textLength="22.06" lengthAdjust="spacingAndGlyphs">1000</text>
<text x="242.15" y="185.90" font-size="9.2" text-anchor="middle" textLength="98.82" lengthAdjust="spacingAndGlyphs">Number of evaluations</text>
<text x="242.15" y="104.50" font-size="9.2" text-anchor="middle" textLength="67.82" lengthAdjust="spacingAndGlyphs">Schaffer2-100D</text>
<text x="171.35" y="166.90" font-size="9.2" text-anchor="end" textLength="11.03" lengthAdjust="spacingAndGlyphs">10</text>
<text class="sup" x="171.55" y="163.70" font-size="6.3" text-anchor="start" textLength="8.95" lengthAdjust="spacingAndGlyphs">−6</text>
<text x="171.35" y="139.30" font-size="9.2" text-anchor="end" textLength="11.03" lengthAdjust="spacingAndGlyphs">10</text>
<text class="sup" x="171.55" y="136.10" font-size="6.3" text-anchor="start" textLength="8.95" lengthAdjust="spacingAndGlyphs">−3</text>
<text x="176.44" y="111.70" font-size="9.2" text-anchor="end" textLength="11.03" lengthAdjust="spacingAndGlyphs">10</text>
<text class="sup" x="176.64" y="108.50" font-size="6.3" text-anchor="start" textLength="3.86" lengthAdjust="spacingAndGlyphs">0</text>
<defs><clipPath id="c6"><rect x="328.3" y="108.5" width="114.50" height="55.50"/></clipPath></defs>
<path d="M356.93 108.5V164.0M385.55 108.5V164.0M414.18 108.5V164.0M328.3 146.30H442.8M328.3 123.20H442.8" stroke="#c8c8c8" stroke-width="0.8" fill="none"/>
<g clip-path="url(#c6)">
<path d="M328.60 110.00 L329.40 118.10 L330.00 136.30 L331.00 140.30 L333.10 144.90 L337.10 146.90 L343.20 147.50 L347.20 150.40 L357.30 153.00 L387.00 154.20 L443.60 154.20 L443.60 155.00 L387.00 155.00 L357.30 154.50 L347.20 154.40 L343.20 153.50 L337.10 152.40 L333.10 149.40 L331.00 143.30 L330.00 138.30 L329.40 120.10 L328.60 110.00Z" fill="#0000ff" fill-opacity="0.120" stroke="#0000ff" stroke-opacity="0.195" stroke-width="0.6"/>
<path d="M328.60 110.00 L329.50 125.00 L330.50 145.00 L333.10 152.50 L337.10 154.10 L387.00 155.30 L443.60 155.60 L443.60 157.10 L387.00 156.80 L337.10 156.60 L333.10 154.50 L330.50 145.00 L329.50 125.00 L328.60 110.00Z" fill="#1e90ff" fill-opacity="0.160" stroke="#1e90ff" stroke-opacity="0.260" stroke-width="0.6"/>
<path d="M328.60 110.00 C328.90 110.34 328.60 111.72 330.50 112.10 C339.84 112.48 368.90 112.30 387.00 112.40 C405.10 112.50 434.54 112.65 443.60 112.70" fill="none" stroke="#ff4500" stroke-width="1.15" stroke-linejoin="round" stroke-dasharray="3.8 1.4"/>
<path d="M328.60 110.00 C329.96 110.42 334.12 111.62 337.10 112.60 C340.08 113.58 343.97 115.00 347.20 116.10 C350.43 117.20 354.07 118.57 357.30 119.50 C360.53 120.43 362.65 120.99 367.40 121.90 C372.15 122.81 379.34 124.10 387.00 125.20 C394.66 126.30 406.24 127.66 415.30 128.80 C424.36 129.94 439.07 131.74 443.60 132.30" fill="none" stroke="#ff0000" stroke-width="1.5" stroke-linejoin="round"/>
<path d="M328.60 110.00 C329.96 110.66 334.12 112.96 337.10 114.10 C340.08 115.24 343.97 116.12 347.20 117.10 C350.43 118.08 354.07 119.22 357.30 120.20 C360.53 121.18 362.65 122.05 367.40 123.20 C372.15 124.35 379.34 125.85 387.00 127.40 C394.66 128.95 406.24 131.32 415.30 132.90 C424.36 134.48 439.07 136.60 443.60 137.30" fill="none" stroke="#008000" stroke-width="1.5" stroke-linejoin="round"/>
<path d="M328.60 110.00 C329.96 110.85 334.12 114.05 337.10 115.30 C340.08 116.55 343.97 116.92 347.20 117.80 C350.43 118.68 354.07 120.05 357.30 120.80 C360.53 121.55 362.65 121.96 367.40 122.50 C372.15 123.04 380.95 123.61 387.00 124.20 C393.05 124.79 396.14 125.34 405.20 126.20 C414.26 127.06 437.46 129.06 443.60 129.60" fill="none" stroke="#008000" stroke-width="1.15" stroke-linejoin="round" stroke-dasharray="3.8 1.4"/>
<path d="M328.60 110.00 C328.74 112.40 329.20 119.40 329.50 125.00 C329.80 130.60 329.92 140.44 330.50 145.00 C331.08 149.56 332.04 151.88 333.10 153.50 C334.16 155.12 333.10 154.73 337.10 155.10 C345.72 155.47 369.96 155.64 387.00 155.80 C404.04 155.96 434.54 156.05 443.60 156.10" fill="none" stroke="#1e90ff" stroke-width="1.15" stroke-linejoin="round" stroke-dasharray="3.8 1.4"/>
<path d="M328.60 110.00 C328.73 111.46 329.18 114.73 329.40 119.10 C329.62 123.47 329.74 133.75 330.00 137.30 C330.26 140.85 330.50 139.84 331.00 141.30 C331.50 142.76 332.12 145.26 333.10 146.40 C334.08 147.54 335.48 147.98 337.10 148.40 C338.72 148.82 341.58 148.52 343.20 149.00 C344.82 149.48 344.94 150.68 347.20 151.40 C349.46 152.12 350.93 153.00 357.30 153.50 C363.67 154.00 373.19 154.34 387.00 154.50 C400.81 154.66 434.54 154.50 443.60 154.50" fill="none" stroke="#0000ff" stroke-width="1.5" stroke-linejoin="round"/>
</g>
<rect x="328.3" y="108.5" width="114.50" height="55.50" fill="none" stroke="#262626" stroke-width="0.7"/>
<path d="M328.30 164.0v2.9M356.93 164.0v2.9M385.55 164.0v2.9M414.18 164.0v2.9M442.80 164.0v2.9M328.3 146.30h-2.9M328.3 123.20h-2.9" stroke="#262626" stroke-width="0.7" fill="none"/>
<text x="328.30" y="175.40" font-size="9.2" text-anchor="middle" textLength="5.52" lengthAdjust="spacingAndGlyphs">0</text>
<text x="356.93" y="175.40" font-size="9.2" text-anchor="middle" textLength="16.55" lengthAdjust="spacingAndGlyphs">500</text>
<text x="385.55" y="175.40" font-size="9.2" text-anchor="middle" textLength="22.06" lengthAdjust="spacingAndGlyphs">1000</text>
<text x="414.18" y="175.40" font-size="9.2" text-anchor="middle" textLength="22.06" lengthAdjust="spacingAndGlyphs">1500</text>
<text x="442.80" y="175.40" font-size="9.2" text-anchor="middle" textLength="22.06" lengthAdjust="spacingAndGlyphs">2000</text>
<text x="385.55" y="185.90" font-size="9.2" text-anchor="middle" textLength="98.82" lengthAdjust="spacingAndGlyphs">Number of evaluations</text>
<text x="385.55" y="104.50" font-size="9.2" text-anchor="middle" textLength="62.29" lengthAdjust="spacingAndGlyphs">Ellipsoid-100D</text>
<text x="319.84" y="149.20" font-size="9.2" text-anchor="end" textLength="11.03" lengthAdjust="spacingAndGlyphs">10</text>
<text class="sup" x="320.04" y="146.00" font-size="6.3" text-anchor="start" textLength="3.86" lengthAdjust="spacingAndGlyphs">2</text>
<text x="319.84" y="126.10" font-size="9.2" text-anchor="end" textLength="11.03" lengthAdjust="spacingAndGlyphs">10</text>
<text class="sup" x="320.04" y="122.90" font-size="6.3" text-anchor="start" textLength="3.86" lengthAdjust="spacingAndGlyphs">4</text>
<defs><clipPath id="c7"><rect x="471.3" y="108.5" width="114.80" height="55.50"/></clipPath></defs>
<path d="M500.00 108.5V164.0M528.70 108.5V164.0M557.40 108.5V164.0M471.3 153.20H586.1M471.3 119.00H586.1" stroke="#c8c8c8" stroke-width="0.8" fill="none"/>
<g clip-path="url(#c7)">
<path d="M473.60 132.90 L586.60 132.90 L586.60 141.70 L473.60 141.70Z" fill="#1e90ff" fill-opacity="0.160" stroke="#1e90ff" stroke-opacity="0.260" stroke-width="0.6"/>
<path d="M471.60 110.50 L472.00 111.00 L473.00 122.20 L474.00 130.20 L476.10 136.80 L478.10 139.30 L484.10 139.30 L487.20 142.40 L490.20 146.90 L494.20 152.00 L500.30 154.50 L510.00 155.00 L530.00 154.80 L586.60 154.50 L586.60 161.50 L530.00 161.30 L510.00 160.00 L500.30 159.50 L494.20 157.50 L490.20 152.40 L487.20 148.40 L484.10 146.30 L478.10 146.30 L476.10 141.30 L474.00 132.20 L473.00 124.20 L472.00 111.00 L471.60 110.50Z" fill="#0000ff" fill-opacity="0.144" stroke="#0000ff" stroke-opacity="0.234" stroke-width="0.6"/>
<path d="M471.60 110.50 C472.30 110.82 473.86 112.02 476.00 112.50 C478.14 112.98 481.14 113.29 485.00 113.50 C488.86 113.71 492.90 113.72 500.10 113.80 C507.30 113.88 516.16 113.95 530.00 114.00 C543.84 114.05 577.54 114.08 586.60 114.10" fill="none" stroke="#ff4500" stroke-width="1.15" stroke-linejoin="round" stroke-dasharray="3.8 1.4"/>
<path d="M471.60 110.50 C472.94 110.90 475.44 111.96 480.00 113.00 C484.56 114.04 494.48 116.12 500.10 117.00 C505.72 117.88 510.32 118.15 515.10 118.50 C519.88 118.85 518.56 118.72 530.00 119.20 C541.44 119.68 577.54 121.13 586.60 121.50" fill="none" stroke="#ff0000" stroke-width="1.5" stroke-linejoin="round"/>
<path d="M471.60 110.50 C472.94 110.93 475.44 112.19 480.00 113.20 C484.56 114.21 494.48 115.71 500.10 116.80 C505.72 117.89 510.64 118.72 515.10 120.00 C519.56 121.28 524.32 123.33 528.00 124.80 C531.68 126.27 534.87 127.84 538.10 129.20 C541.33 130.56 544.97 132.07 548.20 133.30 C551.43 134.53 552.16 135.94 558.30 136.90 C564.44 137.86 582.07 138.92 586.60 139.30" fill="none" stroke="#008000" stroke-width="1.5" stroke-linejoin="round"/>
<path d="M471.60 110.50 C472.30 111.06 474.66 113.04 476.00 114.00 C477.34 114.96 477.74 115.54 480.00 116.50 C482.26 117.46 486.88 119.20 490.10 120.00 C493.32 120.80 496.90 121.10 500.10 121.50 C503.30 121.90 506.88 122.10 510.10 122.50 C513.32 122.90 517.02 123.73 520.20 124.00 C523.38 124.27 523.90 123.69 530.00 124.20 C536.10 124.71 549.24 126.02 558.30 127.20 C567.36 128.38 582.07 130.90 586.60 131.60" fill="none" stroke="#008000" stroke-width="1.15" stroke-linejoin="round" stroke-dasharray="3.8 1.4"/>
<path d="M471.60 110.50 C471.90 112.82 472.96 120.78 473.50 125.00 C474.04 129.22 473.50 135.00 475.00 136.90 C484.04 138.80 512.14 136.90 530.00 136.90 C547.86 136.90 577.54 136.90 586.60 136.90" fill="none" stroke="#1e90ff" stroke-width="1.15" stroke-linejoin="round" stroke-dasharray="3.8 1.4"/>
<path d="M471.60 110.50 C471.66 110.58 471.78 108.97 472.00 111.00 C472.22 113.03 472.68 119.97 473.00 123.20 C473.32 126.43 473.50 128.78 474.00 131.20 C474.50 133.62 475.44 136.68 476.10 138.30 C476.76 139.92 476.82 140.82 478.10 141.30 C479.38 141.78 482.64 140.80 484.10 141.30 C485.56 141.80 486.22 143.10 487.20 144.40 C488.18 145.70 489.08 147.78 490.20 149.40 C491.32 151.02 492.58 153.36 494.20 154.50 C495.82 155.64 497.77 156.02 500.30 156.50 C502.83 156.98 505.25 157.21 510.00 157.50 C514.75 157.79 517.74 158.14 530.00 158.30 C542.26 158.46 577.54 158.47 586.60 158.50" fill="none" stroke="#0000ff" stroke-width="1.5" stroke-linejoin="round"/>
</g>
<rect x="471.3" y="108.5" width="114.80" height="55.50" fill="none" stroke="#262626" stroke-width="0.7"/>
<path d="M471.30 164.0v2.9M500.00 164.0v2.9M528.70 164.0v2.9M557.40 164.0v2.9M586.10 164.0v2.9M471.3 153.20h-2.9M471.3 119.00h-2.9" stroke="#262626" stroke-width="0.7" fill="none"/>
<path d="M471.3 163.50h-1.7M471.3 160.79h-1.7M471.3 158.50h-1.7M471.3 156.51h-1.7M471.3 154.76h-1.7M471.3 142.90h-1.7M471.3 136.88h-1.7M471.3 132.61h-1.7M471.3 129.30h-1.7M471.3 126.59h-1.7M471.3 124.30h-1.7M471.3 122.31h-1.7M471.3 120.56h-1.7M471.3 108.70h-1.7" stroke="#262626" stroke-width="0.5" fill="none"/>
<text x="471.30" y="175.40" font-size="9.2" text-anchor="middle" textLength="5.52" lengthAdjust="spacingAndGlyphs">0</text>
<text x="500.00" y="175.40" font-size="9.2" text-anchor="middle" textLength="16.55" lengthAdjust="spacingAndGlyphs">500</text>
<text x="528.70" y="175.40" font-size="9.2" text-anchor="middle" textLength="22.06" lengthAdjust="spacingAndGlyphs">1000</text>
<text x="557.40" y="175.40" font-size="9.2" text-anchor="middle" textLength="22.06" lengthAdjust="spacingAndGlyphs">1500</text>
<text x="586.10" y="175.40" font-size="9.2" text-anchor="middle" textLength="22.06" lengthAdjust="spacingAndGlyphs">2000</text>
<text x="528.70" y="185.90" font-size="9.2" text-anchor="middle" textLength="98.82" lengthAdjust="spacingAndGlyphs">Number of evaluations</text>
<text x="528.70" y="104.50" font-size="9.2" text-anchor="middle" textLength="64.8" lengthAdjust="spacingAndGlyphs">Rastrigin-100D</text>
<text x="462.84" y="156.10" font-size="9.2" text-anchor="end" textLength="11.03" lengthAdjust="spacingAndGlyphs">10</text>
<text class="sup" x="463.04" y="152.90" font-size="6.3" text-anchor="start" textLength="3.86" lengthAdjust="spacingAndGlyphs">2</text>
<text x="462.84" y="121.90" font-size="9.2" text-anchor="end" textLength="11.03" lengthAdjust="spacingAndGlyphs">10</text>
<text class="sup" x="463.04" y="118.70" font-size="6.3" text-anchor="start" textLength="3.86" lengthAdjust="spacingAndGlyphs">3</text>
<defs><clipPath id="c8"><rect x="41.6" y="202.9" width="114.60" height="55.70"/></clipPath></defs>
<path d="M70.25 202.9V258.6M98.90 202.9V258.6M127.55 202.9V258.6M41.6 221.20H156.2M41.6 244.50H156.2" stroke="#c8c8c8" stroke-width="0.8" fill="none"/>
<g clip-path="url(#c8)">
<path d="M49.50 256.00 L54.10 239.60 L60.00 231.20 L69.70 225.30 L79.50 221.40 L89.20 218.50 L99.00 217.20 L109.30 216.00 L120.00 214.60 L128.30 214.20 L156.60 213.20 L156.60 219.20 L128.30 220.20 L120.00 220.60 L109.30 222.00 L99.00 223.20 L89.20 224.50 L79.50 227.40 L69.70 231.30 L60.00 237.20 L54.10 245.60 L49.50 262.00Z" fill="#008000" fill-opacity="0.096" stroke="#008000" stroke-opacity="0.156" stroke-width="0.6"/>
<path d="M52.30 256.00 L57.90 243.30 L60.00 239.00 L69.70 232.20 L79.50 228.30 L89.20 224.40 L99.00 222.00 L108.70 220.50 L120.00 219.50 L128.30 219.20 L156.60 218.20 L156.60 224.20 L128.30 225.20 L120.00 225.50 L108.70 226.50 L99.00 228.00 L89.20 230.40 L79.50 234.30 L69.70 238.20 L60.00 245.00 L57.90 249.30 L52.30 262.00Z" fill="#1e90ff" fill-opacity="0.120" stroke="#1e90ff" stroke-opacity="0.195" stroke-width="0.6"/>
<path d="M54.10 255.50 L59.80 242.80 L60.00 241.40 L69.70 236.50 L75.60 233.60 L79.50 230.70 L89.20 226.80 L99.00 221.90 L108.70 217.00 L120.00 212.20 L128.30 210.60 L156.60 208.60 L156.60 215.60 L128.30 217.60 L120.00 219.20 L108.70 224.00 L99.00 228.90 L89.20 233.80 L79.50 237.70 L75.60 240.60 L69.70 243.50 L60.00 248.40 L59.80 249.80 L54.10 262.50Z" fill="#0000ff" fill-opacity="0.096" stroke="#0000ff" stroke-opacity="0.156" stroke-width="0.6"/>
<path d="M50.40 257.50 L55.10 248.60 L60.00 246.30 L69.70 240.50 L79.50 237.60 L89.20 235.60 L99.00 234.60 L108.70 231.70 L120.00 230.70 L128.30 230.70 L138.40 229.80 L156.60 229.80 L156.60 232.80 L138.40 232.80 L128.30 233.70 L120.00 233.70 L108.70 234.70 L99.00 237.60 L89.20 238.60 L79.50 240.60 L69.70 243.50 L60.00 249.30 L55.10 251.60 L50.40 260.50Z" fill="#ff4500" fill-opacity="0.096" stroke="#ff4500" stroke-opacity="0.156" stroke-width="0.6"/>
<path d="M46.60 257.50 L50.40 241.10 L56.00 229.80 L60.00 226.80 L63.50 223.10 L69.70 219.00 L79.50 214.20 L89.20 211.60 L99.00 210.30 L109.30 209.60 L120.00 208.90 L128.30 208.60 L156.60 207.80 L156.60 210.80 L128.30 211.60 L120.00 211.90 L109.30 212.60 L99.00 213.30 L89.20 214.60 L79.50 217.20 L69.70 222.00 L63.50 226.10 L60.00 229.80 L56.00 232.80 L50.40 244.10 L46.60 260.50Z" fill="#008000" fill-opacity="0.096" stroke="#008000" stroke-opacity="0.156" stroke-width="0.6"/>
<path d="M50.40 259.00 C51.15 257.58 53.56 251.89 55.10 250.10 C56.64 248.31 57.66 249.10 60.00 247.80 C62.34 246.50 66.58 243.39 69.70 242.00 C72.82 240.61 76.38 239.88 79.50 239.10 C82.62 238.32 86.08 237.58 89.20 237.10 C92.32 236.62 95.88 236.72 99.00 236.10 C102.12 235.48 105.34 233.82 108.70 233.20 C112.06 232.58 116.86 232.36 120.00 232.20 C123.14 232.04 125.36 232.34 128.30 232.20 C131.24 232.06 133.87 231.44 138.40 231.30 C142.93 231.16 153.69 231.30 156.60 231.30" fill="none" stroke="#ff4500" stroke-width="1.15" stroke-linejoin="round" stroke-dasharray="3.8 1.4"/>
<path d="M52.30 259.00 C53.20 256.97 56.67 249.02 57.90 246.30 C59.13 243.58 58.11 243.78 60.00 242.00 C61.89 240.22 66.58 236.91 69.70 235.20 C72.82 233.49 76.38 232.55 79.50 231.30 C82.62 230.05 86.08 228.41 89.20 227.40 C92.32 226.39 95.88 225.62 99.00 225.00 C102.12 224.38 105.34 223.90 108.70 223.50 C112.06 223.10 116.86 222.71 120.00 222.50 C123.14 222.29 122.44 222.41 128.30 222.20 C134.16 221.99 152.07 221.36 156.60 221.20" fill="none" stroke="#1e90ff" stroke-width="1.15" stroke-linejoin="round" stroke-dasharray="3.8 1.4"/>
<path d="M54.10 259.00 C55.01 256.97 58.86 248.56 59.80 246.30 C60.00 244.04 59.80 245.91 60.00 244.90 C61.58 243.89 67.20 241.25 69.70 240.00 C72.20 238.75 74.03 238.03 75.60 237.10 C77.17 236.17 77.32 235.29 79.50 234.20 C81.68 233.11 86.08 231.71 89.20 230.30 C92.32 228.89 95.88 226.97 99.00 225.40 C102.12 223.83 105.34 222.05 108.70 220.50 C112.06 218.95 116.86 216.72 120.00 215.70 C123.14 214.68 122.44 214.68 128.30 214.10 C134.16 213.52 152.07 212.42 156.60 212.10" fill="none" stroke="#0000ff" stroke-width="1.5" stroke-linejoin="round"/>
<path d="M49.50 259.00 C50.24 256.38 52.42 246.57 54.10 242.60 C55.78 238.63 57.50 236.49 60.00 234.20 C62.50 231.91 66.58 229.87 69.70 228.30 C72.82 226.73 76.38 225.49 79.50 224.40 C82.62 223.31 86.08 222.17 89.20 221.50 C92.32 220.83 95.78 220.60 99.00 220.20 C102.22 219.80 105.94 219.42 109.30 219.00 C112.66 218.58 116.96 217.89 120.00 217.60 C123.04 217.31 122.44 217.42 128.30 217.20 C134.16 216.98 152.07 216.36 156.60 216.20" fill="none" stroke="#008000" stroke-width="1.15" stroke-linejoin="round" stroke-dasharray="3.8 1.4"/>
<path d="M47.10 259.00 C47.69 256.47 49.38 247.71 50.80 243.20 C52.22 238.69 54.53 233.10 56.00 230.80 C57.47 228.50 58.80 229.73 60.00 228.80 C61.20 227.87 61.95 226.25 63.50 225.00 C65.05 223.75 67.14 222.44 69.70 221.00 C72.26 219.56 76.38 217.23 79.50 216.00 C82.62 214.77 86.08 213.97 89.20 213.30 C92.32 212.63 95.78 212.20 99.00 211.80 C102.22 211.40 105.94 211.15 109.30 210.80 C112.66 210.45 116.96 209.89 120.00 209.60 C123.04 209.31 122.44 209.34 128.30 209.00 C134.16 208.66 152.07 207.74 156.60 207.50" fill="none" stroke="#ff0000" stroke-width="1.5" stroke-linejoin="round"/>
<path d="M46.60 259.00 C47.21 256.38 48.90 247.03 50.40 242.60 C51.90 238.17 54.46 233.59 56.00 231.30 C57.54 229.01 58.80 229.37 60.00 228.30 C61.20 227.23 61.95 225.85 63.50 224.60 C65.05 223.35 67.14 221.92 69.70 220.50 C72.26 219.08 76.38 216.88 79.50 215.70 C82.62 214.52 86.08 213.72 89.20 213.10 C92.32 212.48 95.78 212.12 99.00 211.80 C102.22 211.48 105.94 211.32 109.30 211.10 C112.66 210.88 116.96 210.56 120.00 210.40 C123.04 210.24 122.44 210.28 128.30 210.10 C134.16 209.92 152.07 209.43 156.60 209.30" fill="none" stroke="#008000" stroke-width="1.5" stroke-linejoin="round"/>
</g>
<rect x="41.6" y="202.9" width="114.60" height="55.70" fill="none" stroke="#262626" stroke-width="0.7"/>
<path d="M41.60 258.6v2.9M70.25 258.6v2.9M98.90 258.6v2.9M127.55 258.6v2.9M156.20 258.6v2.9M41.6 221.20h-2.9M41.6 244.50h-2.9" stroke="#262626" stroke-width="0.7" fill="none"/>
<text x="41.60" y="270.00" font-size="9.2" text-anchor="middle" textLength="5.52" lengthAdjust="spacingAndGlyphs">0</text>
<text x="70.25" y="270.00" font-size="9.2" text-anchor="middle" textLength="16.55" lengthAdjust="spacingAndGlyphs">250</text>
<text x="98.90" y="270.00" font-size="9.2" text-anchor="middle" textLength="16.55" lengthAdjust="spacingAndGlyphs">500</text>
<text x="127.55" y="270.00" font-size="9.2" text-anchor="middle" textLength="16.55" lengthAdjust="spacingAndGlyphs">750</text>
<text x="156.20" y="270.00" font-size="9.2" text-anchor="middle" textLength="22.06" lengthAdjust="spacingAndGlyphs">1000</text>
<text x="98.90" y="280.50" font-size="9.2" text-anchor="middle" textLength="98.82" lengthAdjust="spacingAndGlyphs">Number of evaluations</text>
<text x="98.90" y="198.90" font-size="9.2" text-anchor="middle" textLength="50.77" lengthAdjust="spacingAndGlyphs">Rover-100D</text>
<text x="37.10" y="224.20" font-size="9.2" text-anchor="end" textLength="5.52" lengthAdjust="spacingAndGlyphs">0</text>
<text x="37.10" y="247.50" font-size="9.2" text-anchor="end" textLength="12.78" lengthAdjust="spacingAndGlyphs">−5</text>
<text x="0" y="0" font-size="9.2" text-anchor="middle" textLength="73.24" lengthAdjust="spacingAndGlyphs" transform="translate(20.6 230.75) rotate(-90)">Best value found</text>
<defs><clipPath id="c9"><rect x="184.9" y="202.9" width="114.50" height="55.70"/></clipPath></defs>
<path d="M213.53 202.9V258.6M242.15 202.9V258.6M270.77 202.9V258.6M184.9 210.90H299.4M184.9 231.10H299.4M184.9 251.50H299.4" stroke="#c8c8c8" stroke-width="0.8" fill="none"/>
<g clip-path="url(#c9)">
<path d="M185.30 231.50 L185.50 229.50 L187.20 226.00 L191.40 222.70 L203.90 217.30 L208.10 215.30 L223.00 214.80 L233.50 213.20 L243.00 212.00 L299.60 210.60 L299.60 213.60 L243.00 215.00 L233.50 216.20 L223.00 217.80 L208.10 218.30 L203.90 220.30 L191.40 225.70 L187.20 229.00 L185.50 232.50 L185.30 234.50Z" fill="#1e90ff" fill-opacity="0.160" stroke="#1e90ff" stroke-opacity="0.260" stroke-width="0.6"/>
<path d="M185.30 232.00 L185.50 230.40 L187.20 227.30 L191.40 224.10 L195.60 222.00 L203.90 219.90 L214.40 218.90 L223.00 218.60 L233.50 215.80 L243.00 214.30 L261.20 213.10 L299.60 212.10 L299.60 214.10 L261.20 215.10 L243.00 216.30 L233.50 217.80 L223.00 220.60 L214.40 220.90 L203.90 221.90 L195.60 224.00 L191.40 226.10 L187.20 229.30 L185.50 232.40 L185.30 234.00Z" fill="#0000ff" fill-opacity="0.120" stroke="#0000ff" stroke-opacity="0.195" stroke-width="0.6"/>
<path d="M185.50 256.50 L185.50 255.10 L189.30 245.70 L195.60 240.40 L203.90 237.30 L214.40 234.70 L223.00 233.10 L243.00 230.60 L299.60 228.80 L299.60 233.80 L243.00 235.60 L223.00 238.10 L214.40 239.70 L203.90 242.30 L195.60 245.40 L189.30 250.70 L185.50 260.10 L185.50 261.50Z" fill="#008000" fill-opacity="0.096" stroke="#008000" stroke-opacity="0.156" stroke-width="0.6"/>
<path d="M185.30 244.50 L185.50 242.50 L189.30 238.30 L199.80 234.10 L214.40 231.00 L223.00 229.90 L243.00 226.80 L271.30 225.80 L299.60 225.80 L299.60 228.80 L271.30 228.80 L243.00 229.80 L223.00 232.90 L214.40 234.00 L199.80 237.10 L189.30 241.30 L185.50 245.50 L185.30 247.50Z" fill="#008000" fill-opacity="0.096" stroke="#008000" stroke-opacity="0.156" stroke-width="0.6"/>
<path d="M185.30 247.00 C185.57 246.52 186.36 244.82 187.00 244.00 C187.64 243.18 187.25 242.75 189.30 241.90 C191.35 241.05 195.78 239.42 199.80 238.70 C203.82 237.98 210.69 237.64 214.40 237.40 C218.11 237.16 218.42 237.17 223.00 237.20 C227.58 237.23 230.74 237.63 243.00 237.60 C255.26 237.57 290.54 237.10 299.60 237.00" fill="none" stroke="#ff4500" stroke-width="1.15" stroke-linejoin="round" stroke-dasharray="3.8 1.4"/>
<path d="M185.50 259.00 C185.50 258.78 185.50 259.33 185.50 257.60 C186.11 255.87 187.68 250.55 189.30 248.20 C190.92 245.85 193.26 244.24 195.60 242.90 C197.94 241.56 200.89 240.71 203.90 239.80 C206.91 238.89 211.34 237.87 214.40 237.20 C217.46 236.53 218.42 236.26 223.00 235.60 C227.58 234.94 230.74 233.79 243.00 233.10 C255.26 232.41 290.54 231.59 299.60 231.30" fill="none" stroke="#008000" stroke-width="1.15" stroke-linejoin="round" stroke-dasharray="3.8 1.4"/>
<path d="M185.30 247.00 C185.33 246.68 185.30 245.99 185.50 245.00 C186.14 244.01 187.01 241.97 189.30 240.80 C191.59 239.63 195.78 238.87 199.80 237.70 C203.82 236.53 210.69 234.33 214.40 233.50 C218.11 232.67 218.42 233.20 223.00 232.50 C227.58 231.80 235.27 230.33 243.00 229.10 C250.73 227.87 262.24 226.06 271.30 224.80 C280.36 223.54 295.07 221.78 299.60 221.20" fill="none" stroke="#ff0000" stroke-width="1.5" stroke-linejoin="round"/>
<path d="M185.30 246.00 C185.33 245.68 185.30 244.99 185.50 244.00 C186.14 243.01 187.01 241.14 189.30 239.80 C191.59 238.46 195.78 236.77 199.80 235.60 C203.82 234.43 210.69 233.17 214.40 232.50 C218.11 231.83 218.42 232.07 223.00 231.40 C227.58 230.73 235.27 228.96 243.00 228.30 C250.73 227.64 262.24 227.46 271.30 227.30 C280.36 227.14 295.07 227.30 299.60 227.30" fill="none" stroke="#008000" stroke-width="1.5" stroke-linejoin="round"/>
<path d="M185.30 233.00 C185.33 232.68 185.30 231.88 185.50 231.00 C185.80 230.12 186.26 228.59 187.20 227.50 C188.14 226.41 188.73 225.59 191.40 224.20 C194.07 222.81 201.23 219.98 203.90 218.80 C206.57 217.62 205.04 217.20 208.10 216.80 C211.16 216.40 218.94 216.64 223.00 216.30 C227.06 215.96 230.30 215.15 233.50 214.70 C236.70 214.25 233.50 213.92 243.00 213.50 C253.58 213.08 290.54 212.32 299.60 212.10" fill="none" stroke="#1e90ff" stroke-width="1.15" stroke-linejoin="round" stroke-dasharray="3.8 1.4"/>
<path d="M185.30 233.00 C185.33 232.74 185.30 232.15 185.50 231.40 C185.80 230.65 186.26 229.31 187.20 228.30 C188.14 227.29 190.06 225.95 191.40 225.10 C192.74 224.25 193.60 223.67 195.60 223.00 C197.60 222.33 200.89 221.40 203.90 220.90 C206.91 220.40 211.34 220.11 214.40 219.90 C217.46 219.69 219.94 220.10 223.00 219.60 C226.06 219.10 230.30 217.49 233.50 216.80 C236.70 216.11 238.57 215.73 243.00 215.30 C247.43 214.87 252.14 214.45 261.20 214.10 C270.26 213.75 293.46 213.26 299.60 213.10" fill="none" stroke="#0000ff" stroke-width="1.5" stroke-linejoin="round"/>
</g>
<rect x="184.9" y="202.9" width="114.50" height="55.70" fill="none" stroke="#262626" stroke-width="0.7"/>
<path d="M184.90 258.6v2.9M213.53 258.6v2.9M242.15 258.6v2.9M270.77 258.6v2.9M299.40 258.6v2.9M184.9 210.90h-2.9M184.9 231.10h-2.9M184.9 251.50h-2.9" stroke="#262626" stroke-width="0.7" fill="none"/>
<text x="184.90" y="270.00" font-size="9.2" text-anchor="middle" textLength="5.52" lengthAdjust="spacingAndGlyphs">0</text>
<text x="213.53" y="270.00" font-size="9.2" text-anchor="middle" textLength="16.55" lengthAdjust="spacingAndGlyphs">500</text>
<text x="242.15" y="270.00" font-size="9.2" text-anchor="middle" textLength="22.06" lengthAdjust="spacingAndGlyphs">1000</text>
<text x="270.77" y="270.00" font-size="9.2" text-anchor="middle" textLength="22.06" lengthAdjust="spacingAndGlyphs">1500</text>
<text x="299.40" y="270.00" font-size="9.2" text-anchor="middle" textLength="22.06" lengthAdjust="spacingAndGlyphs">2000</text>
<text x="242.15" y="280.50" font-size="9.2" text-anchor="middle" textLength="98.82" lengthAdjust="spacingAndGlyphs">Number of evaluations</text>
<text x="242.15" y="198.90" font-size="9.2" text-anchor="middle" textLength="81.44" lengthAdjust="spacingAndGlyphs">Half-cheetah-102D</text>
<text x="180.40" y="213.90" font-size="9.2" text-anchor="end" textLength="13.79" lengthAdjust="spacingAndGlyphs">2.5</text>
<text x="180.40" y="234.10" font-size="9.2" text-anchor="end" textLength="13.79" lengthAdjust="spacingAndGlyphs">0.0</text>
<text x="180.40" y="254.50" font-size="9.2" text-anchor="end" textLength="21.05" lengthAdjust="spacingAndGlyphs">−2.5</text>
<text x="173.70" y="200.90" font-size="8.0" text-anchor="start" textLength="14.72" lengthAdjust="spacingAndGlyphs">1e3</text>
<defs><clipPath id="c10"><rect x="328.3" y="202.9" width="114.50" height="55.70"/></clipPath></defs>
<path d="M356.93 202.9V258.6M385.55 202.9V258.6M414.18 202.9V258.6M328.3 221.40H442.8M328.3 245.80H442.8" stroke="#c8c8c8" stroke-width="0.8" fill="none"/>
<g clip-path="url(#c10)">
<path d="M336.50 199.00 L338.50 200.60 L347.90 203.80 L358.40 206.90 L367.00 210.10 L387.00 214.10 L405.20 217.70 L425.40 219.70 L443.60 221.10 L443.60 226.10 L425.40 224.70 L405.20 222.70 L387.00 219.10 L367.00 215.10 L358.40 211.90 L347.90 208.80 L338.50 205.60 L336.50 204.00Z" fill="#ff4500" fill-opacity="0.120" stroke="#ff4500" stroke-opacity="0.195" stroke-width="0.6"/>
<path d="M334.30 203.20 L339.60 210.60 L343.80 216.00 L347.90 220.60 L358.40 224.80 L367.00 226.90 L387.00 230.50 L405.20 233.40 L443.60 235.40 L443.60 241.40 L405.20 239.40 L387.00 236.50 L367.00 233.90 L358.40 231.80 L347.90 227.60 L343.80 222.00 L339.60 214.60 L334.30 205.20Z" fill="#008000" fill-opacity="0.096" stroke="#008000" stroke-opacity="0.156" stroke-width="0.6"/>
<path d="M329.50 200.50 L331.20 219.50 L333.30 229.90 L335.40 233.10 L343.80 236.20 L357.30 237.70 L367.00 238.30 L377.50 239.90 L387.00 241.50 L405.20 242.90 L443.60 242.90 L443.60 245.90 L405.20 245.90 L387.00 244.50 L377.50 242.90 L367.00 241.30 L357.30 240.70 L343.80 239.20 L335.40 236.10 L333.30 232.90 L331.20 222.50 L329.50 203.50Z" fill="#1e90ff" fill-opacity="0.160" stroke="#1e90ff" stroke-opacity="0.260" stroke-width="0.6"/>
<path d="M331.60 200.00 L332.20 219.90 L333.30 232.50 L335.40 236.70 L339.60 237.10 L343.80 239.80 L346.90 241.90 L367.00 242.60 L375.50 243.40 L387.00 247.50 L405.20 250.50 L425.40 251.50 L443.60 252.90 L443.60 256.40 L425.40 255.00 L405.20 254.00 L387.00 251.00 L375.50 246.40 L367.00 245.10 L346.90 244.40 L343.80 242.30 L339.60 239.10 L335.40 238.70 L333.30 234.50 L332.20 221.90 L331.60 202.00Z" fill="#0000ff" fill-opacity="0.096" stroke="#0000ff" stroke-opacity="0.156" stroke-width="0.6"/>
<path d="M334.30 200.60 L339.60 211.10 L343.80 219.40 L347.90 225.70 L354.20 229.90 L367.00 234.10 L387.00 241.70 L405.20 245.00 L425.40 247.00 L443.60 248.00 L443.60 251.00 L425.40 250.00 L405.20 248.00 L387.00 244.70 L367.00 237.10 L354.20 232.90 L347.90 228.70 L343.80 222.40 L339.60 214.10 L334.30 203.60Z" fill="#ff0000" fill-opacity="0.096" stroke="#ff0000" stroke-opacity="0.156" stroke-width="0.6"/>
<path d="M335.40 200.60 L339.60 210.00 L343.80 218.40 L347.90 224.70 L354.20 229.30 L367.00 235.10 L387.00 241.10 L405.20 245.60 L443.60 249.00 L443.60 252.00 L405.20 248.60 L387.00 244.10 L367.00 238.10 L354.20 232.30 L347.90 227.70 L343.80 221.40 L339.60 213.00 L335.40 203.60Z" fill="#008000" fill-opacity="0.096" stroke="#008000" stroke-opacity="0.156" stroke-width="0.6"/>
<path d="M336.50 201.50 C336.82 201.76 336.68 202.33 338.50 203.10 C340.32 203.87 344.72 205.29 347.90 206.30 C351.08 207.31 355.34 208.39 358.40 209.40 C361.46 210.41 362.42 211.45 367.00 212.60 C371.58 213.75 380.89 215.38 387.00 216.60 C393.11 217.82 399.06 219.30 405.20 220.20 C411.34 221.10 419.26 221.66 425.40 222.20 C431.54 222.74 440.69 223.38 443.60 223.60" fill="none" stroke="#ff4500" stroke-width="1.15" stroke-linejoin="round" stroke-dasharray="3.8 1.4"/>
<path d="M334.30 204.20 C335.15 205.54 338.08 210.23 339.60 212.60 C341.12 214.97 342.47 217.16 343.80 219.00 C345.13 220.84 345.56 222.61 347.90 224.10 C350.24 225.59 355.34 227.29 358.40 228.30 C361.46 229.31 362.42 229.57 367.00 230.40 C371.58 231.23 380.89 232.54 387.00 233.50 C393.11 234.46 396.14 235.62 405.20 236.40 C414.26 237.18 437.46 238.08 443.60 238.40" fill="none" stroke="#008000" stroke-width="1.15" stroke-linejoin="round" stroke-dasharray="3.8 1.4"/>
<path d="M329.50 202.00 C329.77 205.04 330.59 216.30 331.20 221.00 C331.81 225.70 332.63 229.22 333.30 231.40 C333.97 233.58 333.72 233.59 335.40 234.60 C337.08 235.61 340.30 236.96 343.80 237.70 C347.30 238.44 353.59 238.86 357.30 239.20 C361.01 239.54 363.77 239.45 367.00 239.80 C370.23 240.15 374.30 240.89 377.50 241.40 C380.70 241.91 382.57 242.52 387.00 243.00 C391.43 243.48 396.14 244.18 405.20 244.40 C414.26 244.62 437.46 244.40 443.60 244.40" fill="none" stroke="#1e90ff" stroke-width="1.15" stroke-linejoin="round" stroke-dasharray="3.8 1.4"/>
<path d="M334.30 202.10 C335.15 203.78 338.08 209.59 339.60 212.60 C341.12 215.61 342.47 218.56 343.80 220.90 C345.13 223.24 346.24 225.52 347.90 227.20 C349.56 228.88 351.14 230.06 354.20 231.40 C357.26 232.74 361.75 233.71 367.00 235.60 C372.25 237.49 380.89 241.46 387.00 243.20 C393.11 244.94 399.06 245.65 405.20 246.50 C411.34 247.35 419.26 248.02 425.40 248.50 C431.54 248.98 440.69 249.34 443.60 249.50" fill="none" stroke="#ff0000" stroke-width="1.5" stroke-linejoin="round"/>
<path d="M335.40 202.10 C336.07 203.60 338.26 208.65 339.60 211.50 C340.94 214.35 342.47 217.55 343.80 219.90 C345.13 222.25 346.24 224.46 347.90 226.20 C349.56 227.94 351.14 229.14 354.20 230.80 C357.26 232.46 361.75 234.71 367.00 236.60 C372.25 238.49 380.89 240.92 387.00 242.60 C393.11 244.28 396.14 245.84 405.20 247.10 C414.26 248.36 437.46 249.96 443.60 250.50" fill="none" stroke="#008000" stroke-width="1.5" stroke-linejoin="round"/>
<path d="M331.60 201.00 C331.70 204.18 331.93 215.70 332.20 220.90 C332.47 226.10 332.79 230.81 333.30 233.50 C333.81 236.19 334.39 236.96 335.40 237.70 C336.41 238.44 338.26 237.60 339.60 238.10 C340.94 238.60 342.63 240.03 343.80 240.80 C344.97 241.57 343.80 242.45 346.90 242.90 C350.61 243.35 362.42 243.36 367.00 243.60 C371.58 243.84 372.30 243.62 375.50 244.40 C378.70 245.18 382.25 247.36 387.00 248.50 C391.75 249.64 399.06 250.86 405.20 251.50 C411.34 252.14 419.26 252.12 425.40 252.50 C431.54 252.88 440.69 253.68 443.60 253.90" fill="none" stroke="#0000ff" stroke-width="1.5" stroke-linejoin="round"/>
</g>
<rect x="328.3" y="202.9" width="114.50" height="55.70" fill="none" stroke="#262626" stroke-width="0.7"/>
<path d="M328.30 258.6v2.9M356.93 258.6v2.9M385.55 258.6v2.9M414.18 258.6v2.9M442.80 258.6v2.9M328.3 221.40h-2.9M328.3 245.80h-2.9" stroke="#262626" stroke-width="0.7" fill="none"/>
<text x="328.30" y="270.00" font-size="9.2" text-anchor="middle" textLength="5.52" lengthAdjust="spacingAndGlyphs">0</text>
<text x="356.93" y="270.00" font-size="9.2" text-anchor="middle" textLength="16.55" lengthAdjust="spacingAndGlyphs">250</text>
<text x="385.55" y="270.00" font-size="9.2" text-anchor="middle" textLength="16.55" lengthAdjust="spacingAndGlyphs">500</text>
<text x="414.18" y="270.00" font-size="9.2" text-anchor="middle" textLength="16.55" lengthAdjust="spacingAndGlyphs">750</text>
<text x="442.80" y="270.00" font-size="9.2" text-anchor="middle" textLength="22.06" lengthAdjust="spacingAndGlyphs">1000</text>
<text x="385.55" y="280.50" font-size="9.2" text-anchor="middle" textLength="98.82" lengthAdjust="spacingAndGlyphs">Number of evaluations</text>
<text x="385.55" y="198.90" font-size="9.2" text-anchor="middle" textLength="69.74" lengthAdjust="spacingAndGlyphs">LassoDNA-180D</text>
<text x="323.80" y="224.40" font-size="9.2" text-anchor="end" textLength="13.79" lengthAdjust="spacingAndGlyphs">3.2</text>
<text x="323.80" y="248.80" font-size="9.2" text-anchor="end" textLength="13.79" lengthAdjust="spacingAndGlyphs">3.0</text>
<text x="317.10" y="200.90" font-size="8.0" text-anchor="start" textLength="21.26" lengthAdjust="spacingAndGlyphs">1e−1</text>
<rect x="481.5" y="196.5" width="82.2" height="78.6" rx="1.8" fill="#fff" stroke="#d8d8d8" stroke-width="0.7"/>
<path d="M484.4 203.70H503" stroke="#ff0000" stroke-width="1.2" opacity="0.75"/>
<text x="509.30" y="206.70" font-size="9.2" text-anchor="start" textLength="34.71" lengthAdjust="spacingAndGlyphs">CMA-BO</text>
<path d="M484.4 216.40H503" stroke="#008000" stroke-width="1.2" opacity="0.75"/>
<text x="509.30" y="219.40" font-size="9.2" text-anchor="start" textLength="49.73" lengthAdjust="spacingAndGlyphs">CMA-TuRBO</text>
<path d="M484.4 229.10H503" stroke="#0000ff" stroke-width="1.2" opacity="0.75"/>
<text x="509.30" y="232.10" font-size="9.2" text-anchor="start" textLength="50.95" lengthAdjust="spacingAndGlyphs">CMA-BAxUS</text>
<path d="M484.4 241.80H503" stroke="#ff4500" stroke-width="1.2" opacity="0.75" stroke-dasharray="2.9 1.6"/>
<text x="509.30" y="244.80" font-size="9.2" text-anchor="start" textLength="12.62" lengthAdjust="spacingAndGlyphs">BO</text>
<path d="M484.4 254.50H503" stroke="#008000" stroke-width="1.2" opacity="0.75" stroke-dasharray="2.9 1.6"/>
<text x="509.30" y="257.50" font-size="9.2" text-anchor="start" textLength="28.12" lengthAdjust="spacingAndGlyphs">TuRBO</text>
<path d="M484.4 267.20H503" stroke="#1e90ff" stroke-width="1.2" opacity="0.75" stroke-dasharray="2.9 1.6"/>
<text x="509.30" y="270.20" font-size="9.2" text-anchor="start" textLength="28.86" lengthAdjust="spacingAndGlyphs">BAxUS</text>
</svg></body></html>
